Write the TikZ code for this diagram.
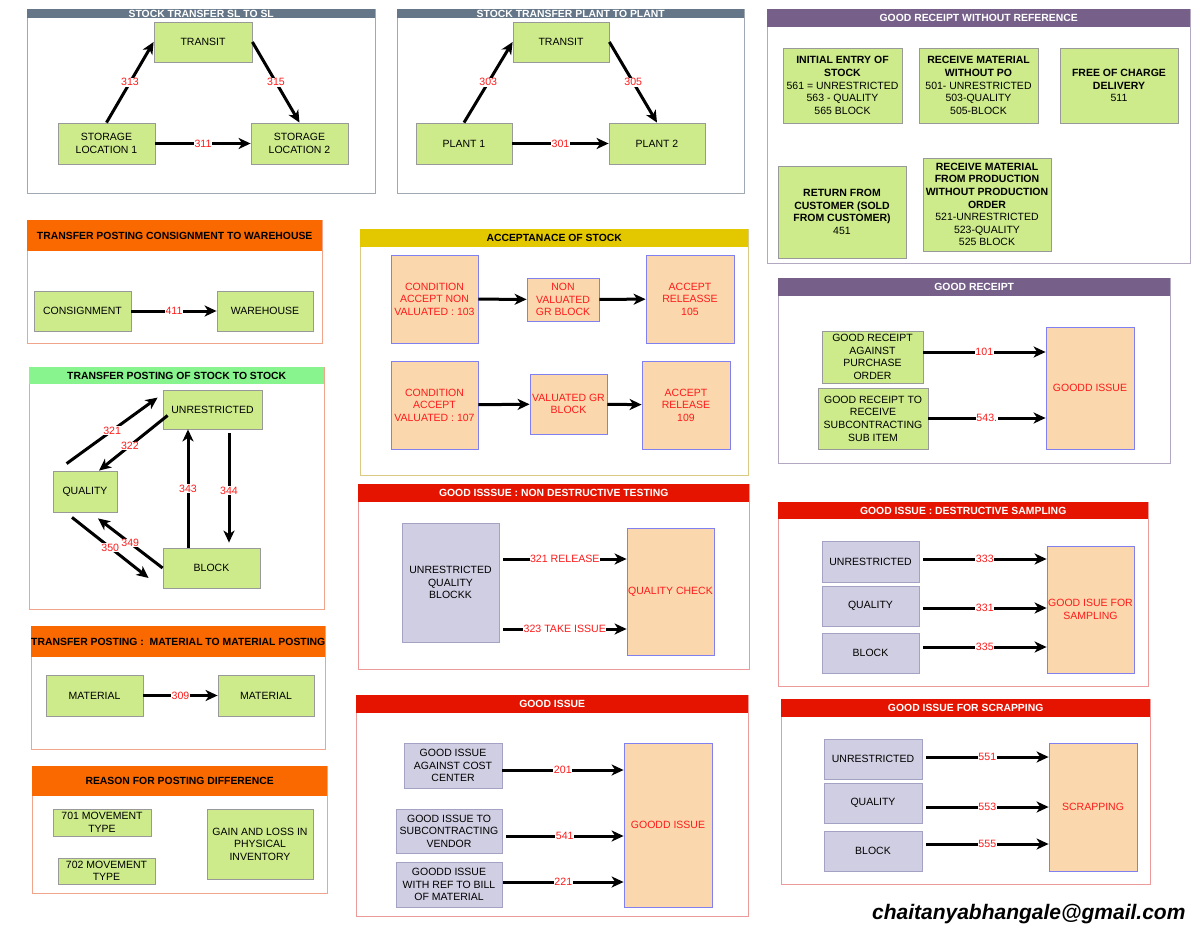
\documentclass[tikz,border=0pt]{standalone}
\usepackage{fontspec}
\setmainfont{Liberation Sans}
\usetikzlibrary{arrows.meta,calc}
\definecolor{grnfill}{HTML}{CDEB8B}
\definecolor{orgfill}{HTML}{FAD7AC}
\definecolor{orgline}{HTML}{8080F0}
\definecolor{lavfill}{HTML}{D0CEE2}
\definecolor{lavline}{HTML}{A3A1C4}
\definecolor{slate}{HTML}{647687}
\definecolor{slateline}{HTML}{A0A8B1}
\definecolor{purp}{HTML}{76608A}
\definecolor{purpline}{HTML}{B3A8C2}
\definecolor{orng}{HTML}{FA6800}
\definecolor{orngline}{HTML}{F0A48C}
\definecolor{lgrn}{HTML}{88F48E}
\definecolor{yell}{HTML}{E3C800}
\definecolor{yellline}{HTML}{DACB84}
\definecolor{redh}{HTML}{E51400}
\definecolor{redline}{HTML}{EC9A9A}
\definecolor{lblred}{HTML}{FF1A1A}

\begin{document}
\begin{tikzpicture}[
    x=1pt, y=-1pt,
    font=\fontsize{10.5}{12.6}\selectfont,
    wh/.style 2 args={minimum width=#1pt, minimum height=#2pt},
    grn/.style={draw=black!40, line width=0.8pt, fill=grnfill, align=center, inner sep=1pt},
    org/.style={draw=orgline, line width=0.8pt, fill=orgfill, text=lblred, align=center, inner sep=1pt},
    lav/.style={draw=lavline, line width=0.8pt, fill=lavfill, align=center, inner sep=1pt},
    frame/.style={draw=#1, line width=0.9pt, fill=white},
    hdr/.style={anchor=north west, inner sep=0pt, font=\bfseries\fontsize{10.4}{12}\selectfont},
    arr/.style={-{Stealth[length=12pt, width=11pt, inset=3.5pt]}, line width=3pt},
    lbl/.style={fill=white, text=lblred, inner sep=0.5pt, font=\fontsize{10.6}{12}\selectfont}
]
\fill[white] (0,0) rectangle (1200,936);
\useasboundingbox (0,0) rectangle (1200,936);

% stock transfer sl to sl
\draw[frame=slateline] (27,9) rectangle (375,193);
\node[hdr, fill=slate, text=white, wh={348}{9}] (h1) at (27,9) {STOCK TRANSFER SL TO SL};
\node[grn, wh={98}{40}] (tr1) at (203,42) {TRANSIT};
\node[grn, wh={97}{41}] (sl1) at (106.5,143.5) {STORAGE\\LOCATION 1};
\node[grn, wh={97}{41}] (sl2) at (299.5,143.5) {STORAGE\\LOCATION 2};
\draw[arr] (sl1.north) -- node[lbl] (l313) {313} (tr1.west);
\draw[arr] (tr1.east) -- node[lbl] (l315) {315} (sl2.north);
\draw[arr] (sl1.east) -- node[lbl] (l311) {311} (sl2.west);

% stock transfer plant to plant
\draw[frame=slateline] (397,9) rectangle (744,193);
\node[hdr, fill=slate, text=white, wh={347}{9}] (h2) at (397,9) {STOCK TRANSFER PLANT TO PLANT};
\node[grn, wh={96}{40}] (tr2) at (561,42) {TRANSIT};
\node[grn, wh={96}{41}] (p1) at (464,143.5) {PLANT 1};
\node[grn, wh={96}{41}] (p2) at (657,143.5) {PLANT 2};
\draw[arr] (p1.north) -- node[lbl] (l303) {303} (tr2.west);
\draw[arr] (tr2.east) -- node[lbl] (l305) {305} (p2.north);
\draw[arr] (p1.east) -- node[lbl] (l301) {301} (p2.west);

% good receipt without reference
\draw[frame=purpline] (767,9) rectangle (1190,263);
\node[hdr, fill=purp, text=white, wh={423}{18}] (h3) at (767,9) {GOOD RECEIPT WITHOUT REFERENCE};
\node[grn, wh={119}{75}] (ie) at (842.5,85.5) {\textbf{INITIAL ENTRY OF}\\\textbf{STOCK}\\561 = UNRESTRICTED\\563 - QUALITY\\565 BLOCK};
\node[grn, wh={119}{75}] (rm) at (978.5,85.5) {\textbf{RECEIVE MATERIAL}\\\textbf{WITHOUT PO}\\501- UNRESTRICTED\\503-QUALITY\\505-BLOCK};
\node[grn, wh={118}{75}] (fc) at (1119,85.5) {\textbf{FREE OF CHARGE}\\\textbf{DELIVERY}\\511};
\node[grn, wh={128}{92}] (rc) at (842,212) {\textbf{RETURN FROM}\\\textbf{CUSTOMER (SOLD}\\\textbf{FROM CUSTOMER)}\\451};
\node[grn, wh={128}{93}] (rp) at (987,204.5) {\textbf{RECEIVE MATERIAL}\\\textbf{FROM PRODUCTION}\\\textbf{WITHOUT PRODUCTION}\\\textbf{ORDER}\\521-UNRESTRICTED\\523-QUALITY\\525 BLOCK};

% transfer posting consignment to warehouse
\draw[frame=orngline] (27,220) rectangle (322,343);
\node[hdr, fill=orng, wh={295}{31}] (h4) at (27,220) {TRANSFER POSTING CONSIGNMENT TO WAREHOUSE};
\node[grn, wh={97}{40}] (cons) at (82.5,311) {CONSIGNMENT};
\node[grn, wh={96}{40}] (ware) at (265,311) {WAREHOUSE};
\draw[arr] (cons) -- node[lbl] (l411) {411} (ware);

% transfer posting of stock to stock
\draw[frame=orngline] (29,367) rectangle (324,609);
\node[hdr, fill=lgrn, wh={295}{17}] (h5) at (29,367) {TRANSFER POSTING OF STOCK TO STOCK};
\node[grn, wh={99}{39}] (ur) at (212.5,409.5) {UNRESTRICTED};
\node[grn, wh={64}{41}] (ql) at (85,491.5) {QUALITY};
\node[grn, wh={97}{40}] (bl) at (211.5,568) {BLOCK};
\coordinate (b343) at ($(bl.north)+(-23.5,0)$);
\coordinate (u344) at ($(ur.south)+(16.5,4)$);
\draw[arr] ($(ql.north west)+(14,-7)$) -- node[lbl] (l321) {321} ($(ur.north west)+(-5,8)$);
\draw[arr] ($(ur.west)+(5,6)$) -- node[lbl, pos=0.55] (l322) {322} ($(ql.north)+(14,0)$);
\draw[arr] (b343) -- node[lbl] (l343) {343} (b343 |- ur.south);
\draw[arr, shorten >=5pt] (u344) -- node[lbl] (l344) {344} (u344 |- bl.north);
\draw[arr] (bl.west) -- node[lbl] (l349) {349} ($(ql.south)+(13,6)$);
\draw[arr] ($(ql.south)+(-13,5)$) -- node[lbl] (l350) {350} ($(bl.west)+(-14,10)$);

% acceptance of stock
\draw[frame=yellline] (360,229) rectangle (748,475);
\node[hdr, fill=yell, wh={388}{18}] (h6) at (360,229) {ACCEPTANACE OF STOCK};
\node[org, wh={87}{88}] (c103) at (434.5,299) {CONDITION\\ACCEPT NON\\VALUATED : 103};
\node[org, wh={72}{43}] (nv) at (563,299.5) {NON\\VALUATED\\GR BLOCK};
\node[org, wh={88}{88}] (r105) at (690,299) {ACCEPT\\RELEASSE\\105};
\node[org, wh={87}{88}] (c107) at (434.5,405) {CONDITION\\ACCEPT\\VALUATED : 107};
\node[org, wh={77}{60}] (vgr) at (568.5,404) {VALUATED GR\\BLOCK};
\node[org, wh={88}{88}] (r109) at (686,405) {ACCEPT\\RELEASE\\109};
\draw[arr] (c103) -- (nv);
\draw[arr] (nv) -- (r105);
\draw[arr] (c107) -- (vgr);
\draw[arr] (vgr) -- (r109);

% good receipt
\draw[frame=purpline] (778,278) rectangle (1170,463);
\node[hdr, fill=purp, text=white, wh={392}{18}] (h7) at (778,278) {GOOD RECEIPT};
\node[grn, wh={101}{52}] (gr1) at (872.5,357) {GOOD RECEIPT\\AGAINST\\PURCHASE\\ORDER};
\node[grn, wh={110}{61}] (gr2) at (873,418.5) {GOOD RECEIPT TO\\RECEIVE\\SUBCONTRACTING\\SUB ITEM};
\node[org, wh={88}{122}] (gi1) at (1090,388) {GOODD ISSUE};
\coordinate (s101) at (923,352);
\coordinate (s543) at (928,418);
\draw[arr] (s101) -- node[lbl] (l101) {101} (s101 -| gi1.west);
\draw[arr] (s543) -- node[lbl] (l543) {543.} (s543 -| gi1.west);

% transfer posting material to material
\draw[frame=orngline] (31,626) rectangle (325,749);
\node[hdr, fill=orng, wh={294}{31}] (h8) at (31,626) {TRANSFER POSTING :\ \ MATERIAL TO MATERIAL POSTING};
\node[grn, wh={97}{41}] (m1) at (94.5,695.5) {MATERIAL};
\node[grn, wh={96}{41}] (m2) at (266,695.5) {MATERIAL};
\draw[arr] (m1) -- node[lbl] (l309) {309} (m2);

% reason for posting difference
\draw[frame=orngline] (32,766) rectangle (327,893);
\node[hdr, fill=orng, wh={295}{30}] (h9) at (32,766) {REASON FOR POSTING DIFFERENCE};
\node[grn, wh={98}{27}] (mv1) at (102,822.5) {701 MOVEMENT\\TYPE};
\node[grn, wh={97}{26}] (mv2) at (106.5,871) {702 MOVEMENT\\TYPE};
\node[grn, wh={106}{70}] (gl) at (260,844) {GAIN AND LOSS IN\\PHYSICAL\\INVENTORY};

% good issue non destructive testing
\draw[frame=redline] (358,484) rectangle (749,669);
\node[hdr, fill=redh, text=white, wh={391}{18}] (h10) at (358,484) {GOOD ISSSUE : NON DESTRUCTIVE TESTING};
\node[lav, wh={97}{119}] (uqb) at (450.5,582.5) {UNRESTRICTED\\QUALITY\\BLOCKK};
\node[org, wh={87}{127}] (qc) at (670.5,591.5) {QUALITY CHECK};
\coordinate (s321) at (503,559);
\coordinate (s323) at (503,629);
\draw[arr] (s321) -- node[lbl] (l321r) {321 RELEASE} (s321 -| qc.west);
\draw[arr] (s323) -- node[lbl] (l323) {323 TAKE ISSUE} (s323 -| qc.west);

% good issue destructive sampling
\draw[frame=redline] (778,502) rectangle (1148,686);
\node[hdr, fill=redh, text=white, wh={370}{17}] (h11) at (778,502) {GOOD ISSUE : DESTRUCTIVE SAMPLING};
\node[lav, wh={97}{41}] (du) at (870.5,561.5) {UNRESTRICTED};
\node[lav, wh={97}{40}] (dq) at (870.5,606) {QUALITY};
\node[lav, wh={97}{40}] (db) at (870.5,653) {BLOCK};
\node[org, wh={87}{127}] (gs) at (1090.5,609.5) {GOOD ISUE FOR\\SAMPLING};
\coordinate (s333) at (923,559);
\coordinate (s331) at (923,608);
\coordinate (s335) at (923,647);
\draw[arr] (s333) -- node[lbl] (l333) {333} (s333 -| gs.west);
\draw[arr] (s331) -- node[lbl] (l331) {331} (s331 -| gs.west);
\draw[arr] (s335) -- node[lbl] (l335) {335} (s335 -| gs.west);

% good issue
\draw[frame=redline] (356,695) rectangle (748,916);
\node[hdr, fill=redh, text=white, wh={392}{18}] (h12) at (356,695) {GOOD ISSUE};
\node[lav, wh={98}{45}] (gc) at (453,765.5) {GOOD ISSUE\\AGAINST COST\\CENTER};
\node[lav, wh={106}{44}] (gv) at (449,831) {GOOD ISSUE TO\\SUBCONTRACTING\\VENDOR};
\node[lav, wh={106}{45}] (gb) at (449,884.5) {GOODD ISSUE\\WITH REF TO BILL\\OF MATERIAL};
\node[org, wh={88}{164}] (gi2) at (668,825) {GOODD ISSUE};
\coordinate (s201) at (502,770);
\coordinate (s541) at (506,836);
\coordinate (s221) at (503,882);
\draw[arr] (s201) -- node[lbl] (l201) {201} (s201 -| gi2.west);
\draw[arr] (s541) -- node[lbl] (l541) {541} (s541 -| gi2.west);
\draw[arr] (s221) -- node[lbl] (l221) {221} (s221 -| gi2.west);

% good issue for scrapping
\draw[frame=redline] (781,699) rectangle (1150,884);
\node[hdr, fill=redh, text=white, wh={369}{18}] (h13) at (781,699) {GOOD ISSUE FOR SCRAPPING};
\node[lav, wh={98}{40}] (su) at (873,759) {UNRESTRICTED};
\node[lav, wh={98}{40}] (sq) at (873,803) {QUALITY};
\node[lav, wh={98}{40}] (sb) at (873,851) {BLOCK};
\node[org, wh={88}{128}] (scr) at (1093,807) {SCRAPPING};
\coordinate (s551) at (926,757);
\coordinate (s553) at (926,807);
\coordinate (s555) at (926,844);
\draw[arr] (s551) -- node[lbl] (l551) {551} (s551 -| scr.west);
\draw[arr] (s553) -- node[lbl] (l553) {553} (s553 -| scr.west);
\draw[arr] (s555) -- node[lbl] (l555) {555} (s555 -| scr.west);

% contact
\node[anchor=east, font=\bfseries\itshape\fontsize{21}{24}\selectfont] (mail) at (1189,914) {chaitanyabhangale@gmail.com};
\end{tikzpicture}
\end{document}
